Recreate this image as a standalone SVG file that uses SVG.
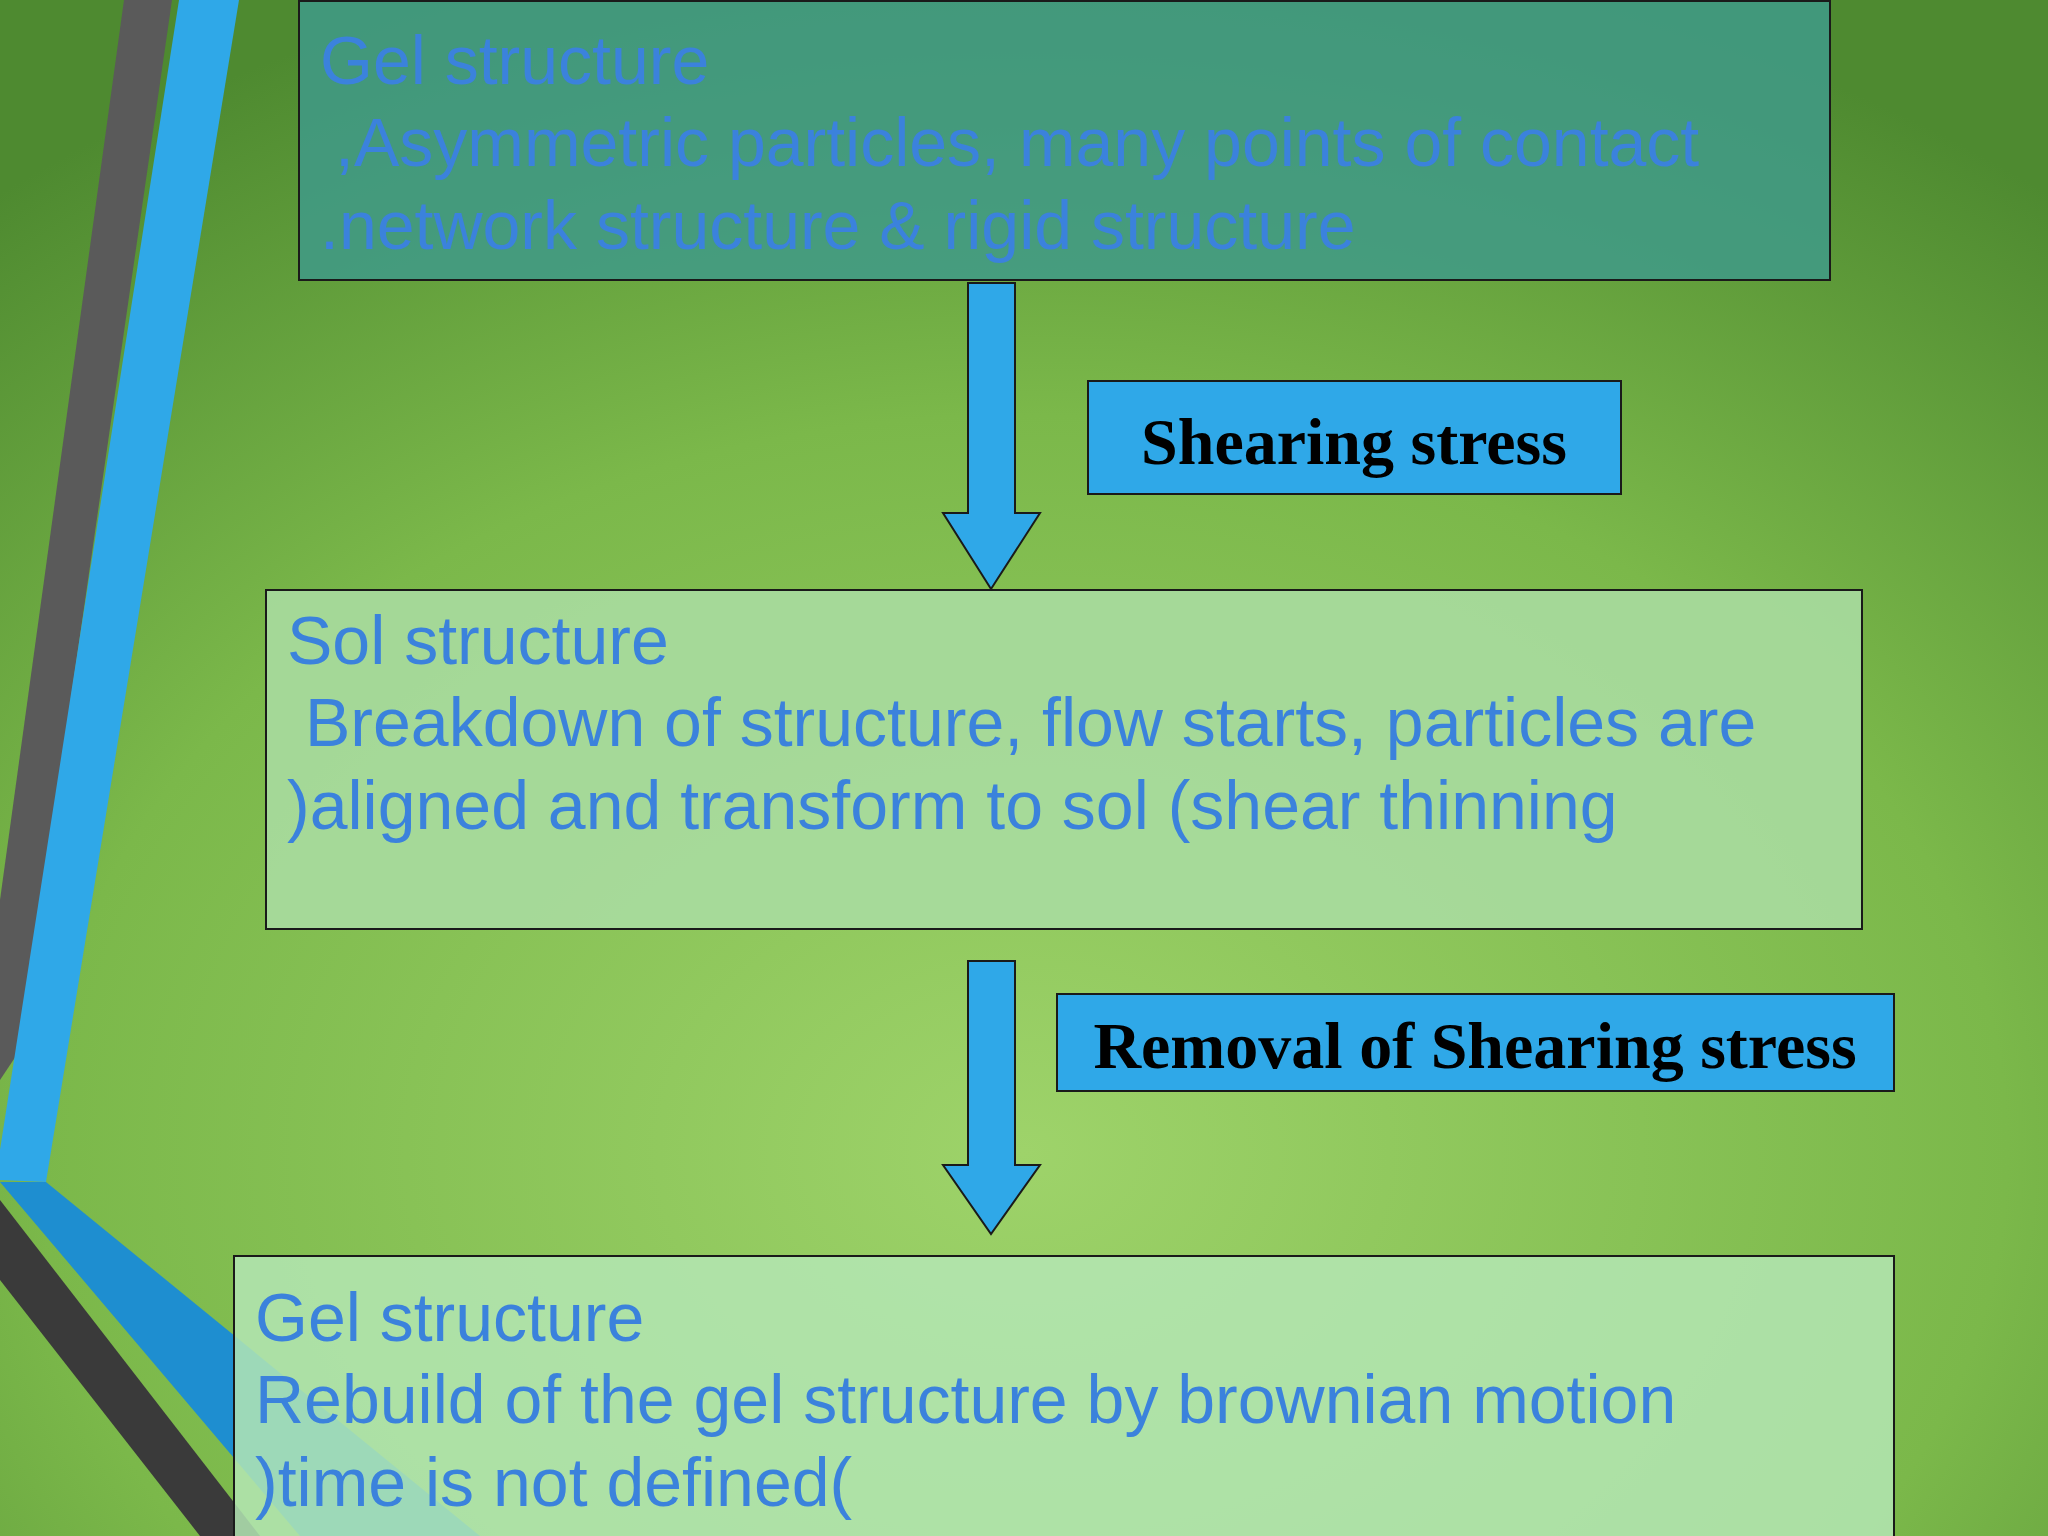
<svg xmlns="http://www.w3.org/2000/svg" width="2048" height="1536" viewBox="0 0 2048 1536">
<defs>
<radialGradient id="bg" cx="0.5" cy="0.75" r="0.8">
<stop offset="0" stop-color="#9ed36a"/><stop offset="0.6" stop-color="#7bb84a"/><stop offset="1" stop-color="#4e8a30"/>
</radialGradient>
<style>
.box{stroke:#1a1a1a;stroke-width:2}
.t{font-family:"Liberation Sans",Arial,sans-serif;font-size:68px;fill:#3b82dc}
.lbl{font-family:"Liberation Serif",serif;font-weight:bold;font-size:66px;fill:#000;text-anchor:middle}
.arr{fill:#2fa8e8;stroke:#1a1a1a;stroke-width:2}
</style>
</defs>
<rect width="2048" height="1536" fill="url(#bg)"/>
<g id="decor">
<polygon points="124,0 172,0 20,1050 0,1080 0,900" fill="#5a5a5a"/>
<polygon points="179,0 239,0 46,1182 0,1180 0,1150" fill="#2fa8e8"/>
<polygon points="0,1182 46,1182 480,1536 300,1536" fill="#1e8ed0"/>
<polygon points="0,1200 0,1280 200,1536 260,1536" fill="#3a3a3a"/>
</g>
<g id="top">
<rect class="box" x="299" y="1" width="1531" height="279" fill="#3f9a88" fill-opacity="0.85"/>
<text class="t" x="320" y="84">Gel structure</text>
<text class="t" x="335" y="166">,Asymmetric particles,  many points of contact</text>
<text class="t" x="320" y="249">.network structure &amp; rigid structure</text>
</g>
<g id="sol">
<rect class="box" x="266" y="590" width="1596" height="339" fill="#a8dca0" fill-opacity="0.9"/>
<text class="t" x="287" y="664">Sol structure</text>
<text class="t" x="305" y="746">Breakdown of structure, flow starts, particles are</text>
<text class="t" x="287" y="829">)aligned and transform to sol (shear thinning</text>
</g>
<g id="bottom">
<rect class="box" x="234" y="1256" width="1660" height="290" fill="#b4e6b4" fill-opacity="0.85"/>
<text class="t" x="255" y="1341">Gel structure</text>
<text class="t" x="255" y="1423">Rebuild of the gel structure by brownian motion</text>
<text class="t" x="255" y="1506">)time is not defined(</text>
</g>
<g id="shear">
<rect class="box" x="1088" y="381" width="533" height="113" fill="#2fa8e8"/>
<text class="lbl" x="1354" y="464">Shearing stress</text>
</g>
<g id="removal">
<rect class="box" x="1057" y="994" width="837" height="97" fill="#2fa8e8"/>
<text class="lbl" x="1475" y="1068">Removal of Shearing stress</text>
</g>
<g id="connectors">
<polygon class="arr" points="968,283 1015,283 1015,513 1040,513 991,589 943,513 968,513"/>
<polygon class="arr" points="968,961 1015,961 1015,1165 1040,1165 991,1234 943,1165 968,1165"/>
</g>
</svg>
